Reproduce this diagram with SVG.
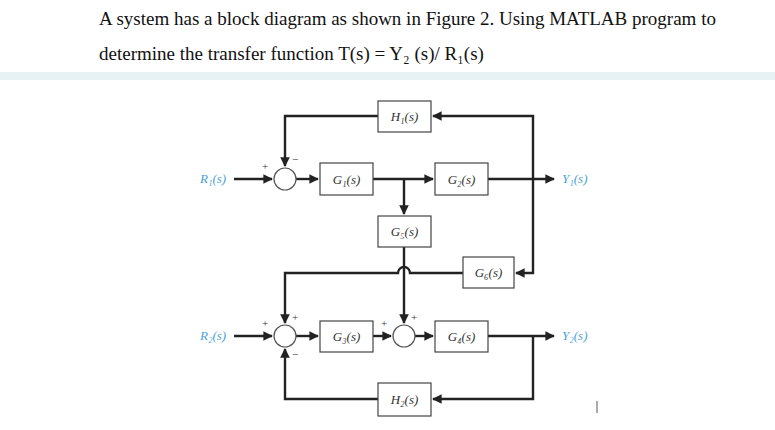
<svg xmlns="http://www.w3.org/2000/svg" width="775" height="430" viewBox="0 0 775 430">
<style>
.b{fill:#fff;stroke:#444;stroke-width:1.2}
.s{fill:#fff;stroke:#555;stroke-width:1.2}
.w{fill:none;stroke:#222;stroke-width:2.4}
.t{font-family:"Liberation Serif",serif;font-style:italic;font-size:13px;fill:#333}
.io{font-family:"Liberation Serif",serif;font-style:italic;font-size:13px;fill:#4aa3d6}
.sg{font-family:"Liberation Serif",serif;font-size:11px;fill:#333}
.h{font-family:"Liberation Serif",serif;font-size:19px;fill:#111}
</style>
<defs><marker id="a" viewBox="0 0 10 10" refX="9" refY="5" markerWidth="4" markerHeight="4" orient="auto" markerUnits="strokeWidth"><path d="M0,0L10,5L0,10z" fill="#222"/></marker></defs>
<rect width="775" height="430" fill="#fff"/>
<text class="h" x="99" y="25">A system has a block diagram as shown in Figure 2. Using MATLAB program to</text>
<text class="h" x="99" y="60">determine the transfer function T(s) = Y₂ (s)/ R₁(s)</text>
<rect x="0" y="72" width="775" height="8" fill="#e6f2f4"/>
<g id="connectors">
<path class="w" d="M234,179H272" marker-end="url(#a)"/>
<path class="w" d="M296,179H318" marker-end="url(#a)"/>
<path class="w" d="M373,179H433" marker-end="url(#a)"/>
<path class="w" d="M488,179H554" marker-end="url(#a)"/>
<path class="w" d="M404,179V214" marker-end="url(#a)"/>
<path class="w" d="M533,179V116H433" marker-end="url(#a)"/>
<path class="w" d="M378,116H285V166" marker-end="url(#a)"/>
<path class="w" d="M533,179V273H516" marker-end="url(#a)"/>
<path class="w" d="M463,273H410A6,6 0 0 0 398,273H285V323" marker-end="url(#a)"/>
<path class="w" d="M404,247V323" marker-end="url(#a)"/>
<path class="w" d="M234,336H272" marker-end="url(#a)"/>
<path class="w" d="M296,336H318" marker-end="url(#a)"/>
<path class="w" d="M373,336H391" marker-end="url(#a)"/>
<path class="w" d="M415,336H433" marker-end="url(#a)"/>
<path class="w" d="M488,336H554" marker-end="url(#a)"/>
<path class="w" d="M533,336V399H433" marker-end="url(#a)"/>
<path class="w" d="M378,399H285V349" marker-end="url(#a)"/>
</g>
<g id="sum1"><circle class="s" cx="285" cy="179" r="11"/><text class="sg" x="262" y="170">+</text><text class="sg" x="292" y="163">−</text></g>
<g id="sum2"><circle class="s" cx="285" cy="336" r="11"/><text class="sg" x="262" y="327">+</text><text class="sg" x="292" y="321">+</text><text class="sg" x="292" y="358">−</text></g>
<g id="sum3"><circle class="s" cx="404" cy="336" r="11"/><text class="sg" x="381" y="327">+</text><text class="sg" x="411" y="321">+</text></g>
<g id="H1"><rect class="b" x="378" y="101" width="53" height="31"/><text class="t" x="404.5" y="121" text-anchor="middle">H₁(s)</text></g>
<g id="G1"><rect class="b" x="320" y="163" width="53" height="32"/><text class="t" x="346.5" y="184" text-anchor="middle">G₁(s)</text></g>
<g id="G2"><rect class="b" x="435" y="163" width="53" height="32"/><text class="t" x="461.5" y="184" text-anchor="middle">G₂(s)</text></g>
<g id="G5"><rect class="b" x="378" y="216" width="53" height="31"/><text class="t" x="404.5" y="236" text-anchor="middle">G₅(s)</text></g>
<g id="G6"><rect class="b" x="463" y="257" width="51" height="31"/><text class="t" x="488.5" y="277" text-anchor="middle">G₆(s)</text></g>
<g id="G3"><rect class="b" x="320" y="321" width="53" height="31"/><text class="t" x="346.5" y="341" text-anchor="middle">G₃(s)</text></g>
<g id="G4"><rect class="b" x="435" y="321" width="53" height="31"/><text class="t" x="461.5" y="341" text-anchor="middle">G₄(s)</text></g>
<g id="H2"><rect class="b" x="378" y="383" width="53" height="33"/><text class="t" x="404.5" y="404" text-anchor="middle">H₂(s)</text></g>
<g id="R1"><text class="io" x="200" y="183">R₁(s)</text></g>
<g id="Y1"><text class="io" x="562" y="183">Y₁(s)</text></g>
<g id="R2"><text class="io" x="200" y="340">R₂(s)</text></g>
<g id="Y2"><text class="io" x="562" y="340">Y₂(s)</text></g>
<rect x="596" y="401" width="2" height="12" fill="#aaa"/>
</svg>
